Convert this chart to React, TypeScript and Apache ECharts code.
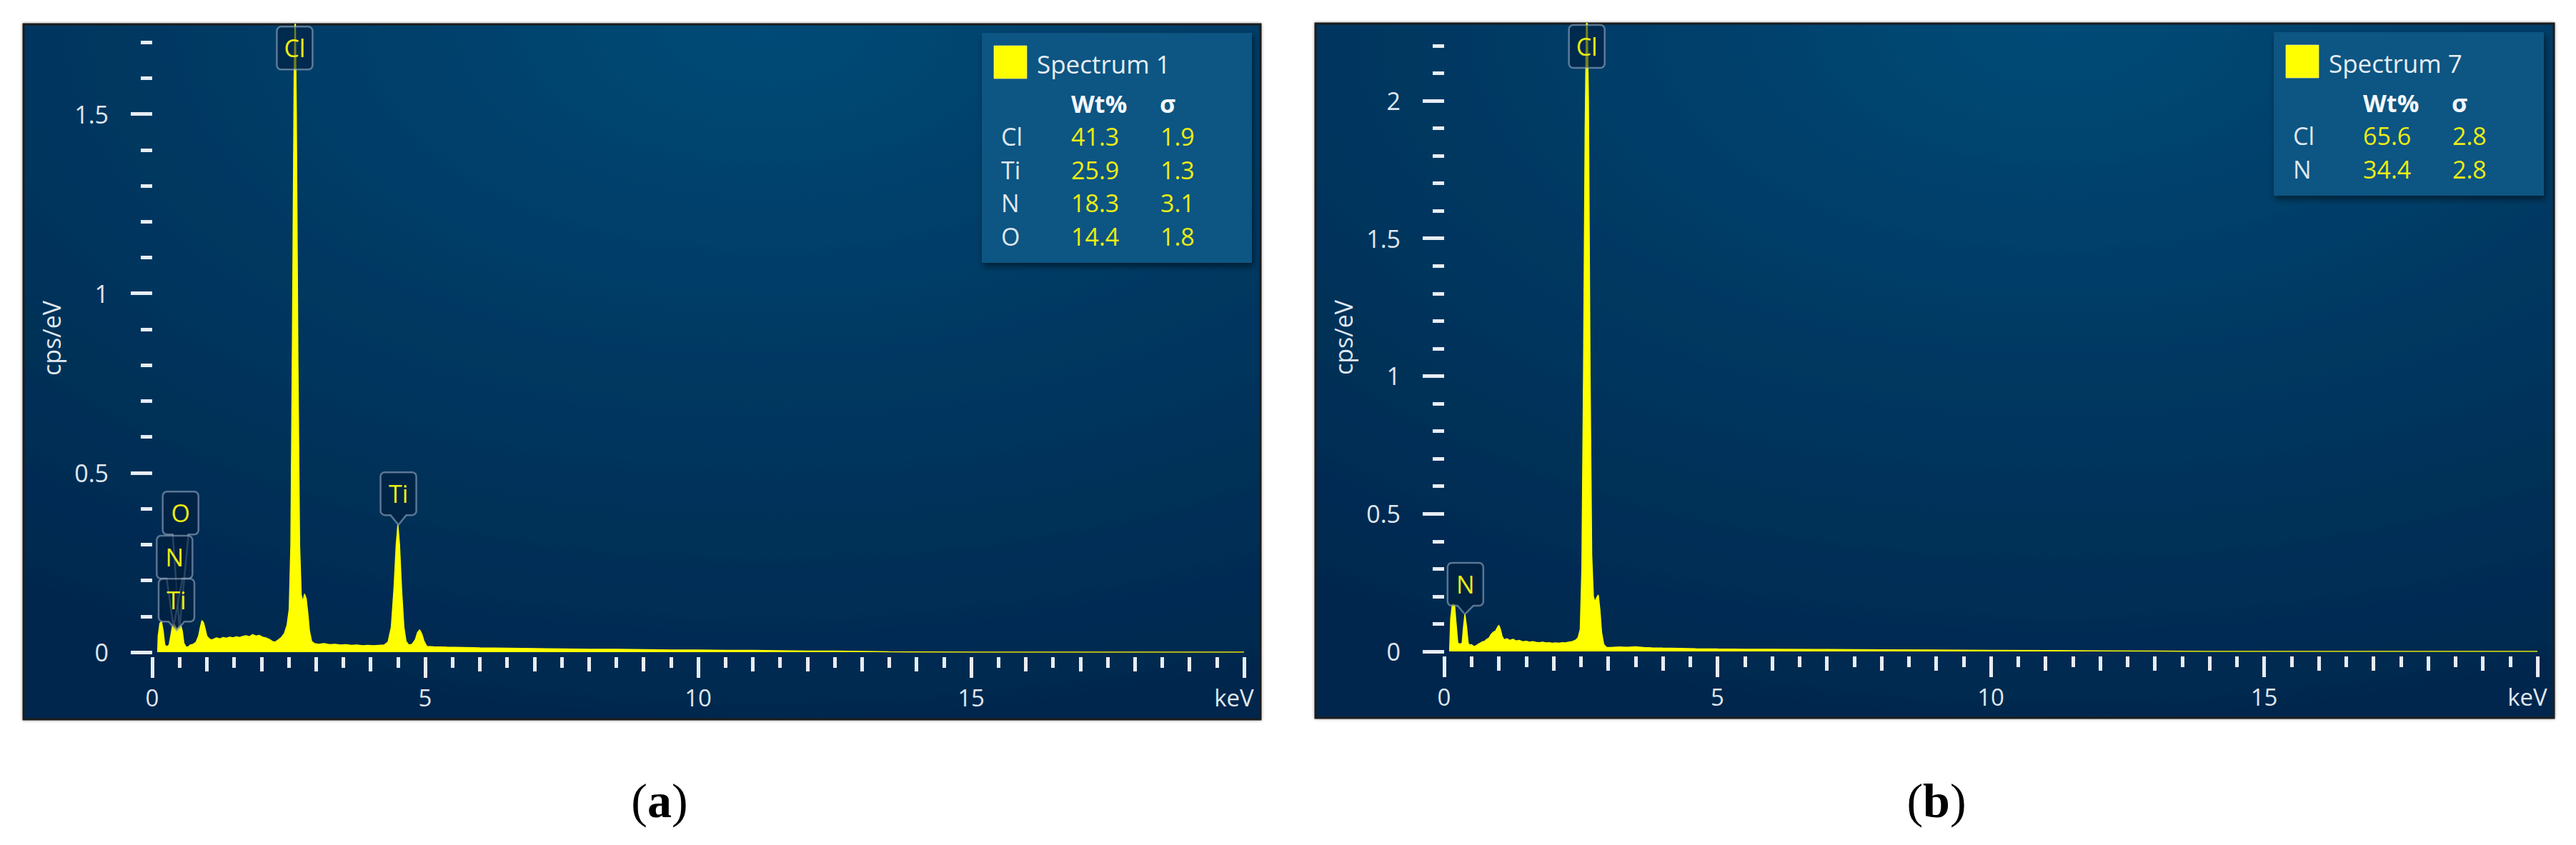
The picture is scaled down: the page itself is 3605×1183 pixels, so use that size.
import React, { useEffect, useRef } from 'react';
import * as echarts from 'echarts';

// ---------------- Spectrum 1 (panel a) : energy (keV) / intensity (cps/eV) ----------------
const energyA: number[] = [
  0.10, 0.11, 0.14, 0.17, 0.20, 0.23, 0.27, 0.31, 0.34, 0.37, 0.40, 0.43, 0.46, 0.49, 0.52, 0.55,
  0.58, 0.62, 0.66, 0.70, 0.75, 0.80, 0.85, 0.88, 0.91, 0.94, 0.97, 1.00, 1.04, 1.08, 1.12, 1.18,
  1.24, 1.30, 1.36, 1.42, 1.48, 1.54, 1.60, 1.66, 1.72, 1.78, 1.84, 1.90, 1.96, 2.02, 2.08, 2.14,
  2.20, 2.25, 2.30, 2.36, 2.42, 2.47, 2.51, 2.54, 2.57, 2.60, 2.62, 2.64, 2.67, 2.70, 2.73, 2.76,
  2.79, 2.82, 2.85, 2.88, 2.92, 2.97, 3.05, 3.15, 3.25, 3.35, 3.45, 3.55, 3.65, 3.75, 3.85, 3.95,
  4.05, 4.15, 4.25, 4.32, 4.38, 4.43, 4.47, 4.50, 4.53, 4.57, 4.61, 4.65, 4.70, 4.76, 4.82, 4.86,
  4.90, 4.94, 4.98, 5.03, 5.15, 5.40, 5.70, 6.00, 6.50, 7.00, 7.50, 8.00, 8.50, 9.00, 9.50, 10.0,
  10.5, 11.0, 11.5, 12.0, 12.5, 13.0, 13.5, 14.0, 15.0, 20.0,
];
const countsA: number[] = [
  0.000, 0.045, 0.080, 0.085, 0.060, 0.020, 0.015, 0.020, 0.045, 0.072, 0.078, 0.070, 0.064, 0.072, 0.075, 0.060,
  0.025, 0.014, 0.015, 0.020, 0.022, 0.027, 0.045, 0.068, 0.088, 0.082, 0.065, 0.045, 0.038, 0.034, 0.036, 0.040,
  0.037, 0.041, 0.039, 0.042, 0.040, 0.043, 0.041, 0.044, 0.046, 0.043, 0.049, 0.045, 0.047, 0.042, 0.040, 0.036,
  0.030, 0.028, 0.033, 0.040, 0.052, 0.075, 0.120, 0.300, 0.900, 1.600, 1.800, 1.500, 0.800, 0.300, 0.160, 0.140,
  0.162, 0.150, 0.110, 0.060, 0.030, 0.024, 0.022, 0.024, 0.021, 0.022, 0.020, 0.021, 0.019, 0.020, 0.018, 0.019,
  0.018, 0.019, 0.020, 0.028, 0.070, 0.180, 0.300, 0.355, 0.300, 0.170, 0.070, 0.030, 0.020, 0.022, 0.035, 0.055,
  0.062, 0.050, 0.030, 0.016, 0.015, 0.014, 0.013, 0.012, 0.011, 0.010, 0.009, 0.008, 0.008, 0.007, 0.006, 0.006,
  0.005, 0.005, 0.004, 0.003, 0.003, 0.002, 0.001, 0.0005, 0.000, 0.000,
];

// ---------------- Spectrum 7 (panel b) ----------------
const energyB: number[] = [
  0.10, 0.12, 0.15, 0.19, 0.22, 0.25, 0.29, 0.33, 0.35, 0.38, 0.41, 0.44, 0.47, 0.50, 0.54, 0.58,
  0.62, 0.66, 0.70, 0.74, 0.78, 0.82, 0.86, 0.90, 0.94, 0.97, 1.00, 1.03, 1.06, 1.10, 1.15, 1.20,
  1.26, 1.32, 1.38, 1.44, 1.50, 1.56, 1.62, 1.68, 1.74, 1.80, 1.86, 1.92, 1.98, 2.04, 2.10, 2.16,
  2.22, 2.28, 2.34, 2.40, 2.45, 2.49, 2.52, 2.55, 2.58, 2.61, 2.64, 2.67, 2.70, 2.73, 2.76, 2.79,
  2.82, 2.85, 2.88, 2.92, 2.97, 3.05, 3.20, 3.35, 3.50, 3.65, 3.80, 4.00, 4.30, 4.60, 5.00, 5.50,
  6.00, 7.00, 8.00, 9.00, 10.0, 11.0, 12.0, 13.0, 14.0, 20.0,
];
const countsB: number[] = [
  0.000, 0.120, 0.170, 0.170, 0.100, 0.030, 0.027, 0.030, 0.080, 0.135, 0.090, 0.030, 0.022, 0.025, 0.018, 0.020,
  0.026, 0.030, 0.035, 0.037, 0.044, 0.048, 0.062, 0.070, 0.074, 0.085, 0.095, 0.080, 0.055, 0.042, 0.046, 0.040,
  0.044, 0.038, 0.040, 0.035, 0.037, 0.034, 0.036, 0.033, 0.032, 0.034, 0.031, 0.032, 0.030, 0.031, 0.030, 0.032,
  0.031, 0.034, 0.036, 0.040, 0.050, 0.080, 0.300, 1.000, 1.900, 2.400, 2.000, 1.000, 0.350, 0.200, 0.180, 0.195,
  0.205, 0.150, 0.070, 0.025, 0.015, 0.014, 0.016, 0.015, 0.017, 0.014, 0.013, 0.012, 0.011, 0.010, 0.009, 0.008,
  0.008, 0.007, 0.006, 0.005, 0.004, 0.003, 0.002, 0.001, 0.000, 0.000,
];

const xTickLabels = ['0', '5', '10', '15', 'keV'];
const yAxisTitle = 'cps/eV';
const captionLetters = ['a', 'b'];

// quantification tables
const spectrumTitleA = 'Spectrum 1';
const elementsA = ['Cl', 'Ti', 'N', 'O'];
const wtA = ['41.3', '25.9', '18.3', '14.4'];
const sigmaA = ['1.9', '1.3', '3.1', '1.8'];

const spectrumTitleB = 'Spectrum 7';
const elementsB = ['Cl', 'N'];
const wtB = ['65.6', '34.4'];
const sigmaB = ['2.8', '2.8'];

// peak markers: label, box-centre energy, box-bottom intensity, pointer energy, pointer intensity
const peakNamesA = ['Cl', 'O', 'N', 'Ti', 'Ti'];
const peakBoxEA = [2.61, 0.52, 0.41, 0.445, 4.51];
const peakBoxVA = [1.624, 0.328, 0.205, 0.085, 0.382];
const peakTipEA = [2.61, 0.5, 0.39, 0.45, 4.51];
const peakTipVA = [1.624, 0.066, 0.07, 0.06, 0.355];

const peakNamesB = ['Cl', 'N'];
const peakBoxEB = [2.61, 0.39];
const peakBoxVB = [2.119, 0.166];
const peakTipEB = [2.61, 0.38];
const peakTipVB = [2.119, 0.135];

// axis ranges
const xMax = 20;
const yMaxA = 1.75, yMinorMaxA = 1.7, yMajorMaxA = 1.5;
const yMaxB = 2.28, yMinorMaxB = 2.2, yMajorMaxB = 2.0;

// ---------------- styling ----------------
const W = 3605, H = 1183;
const FONT = "'Open Sans', 'Noto Sans', 'DejaVu Sans', sans-serif";
const AXIS_TEXT = '#dfe7ef';
const TICK = '#e8edf3';
const YELLOW = '#ffff00';
const VALUE_YELLOW = '#ecec14';

type Frame = { x: number; y: number; w: number; h: number };

function calloutPoints(cx: number, bottom: number, tipX: number, tipY: number, w: number, h: number, r: number) {
  const l = cx - w / 2, rt = cx + w / 2, t = bottom - h, b = bottom;
  const pts: number[][] = [];
  const arc = (ox: number, oy: number, a0: number, a1: number) => {
    for (let k = 0; k <= 4; k++) {
      const a = a0 + ((a1 - a0) * k) / 4;
      pts.push([ox + r * Math.cos(a), oy + r * Math.sin(a)]);
    }
  };
  arc(l + r, t + r, Math.PI, 1.5 * Math.PI);
  arc(rt - r, t + r, 1.5 * Math.PI, 2 * Math.PI);
  arc(rt - r, b - r, 0, 0.5 * Math.PI);
  if (tipY - b > 2) {
    pts.push([cx + 11, b]);
    pts.push([tipX, tipY]);
    pts.push([cx - 11, b]);
  }
  arc(l + r, b - r, 0.5 * Math.PI, Math.PI);
  return pts;
}

type PanelCfg = {
  frame: Frame;
  energy: number[];
  counts: number[];
  yMax: number;
  yMinorMax: number;
  yMajorMax: number;
  peakNames: string[];
  peakBoxE: number[];
  peakBoxV: number[];
  peakTipE: number[];
  peakTipV: number[];
  title: string;
  elements: string[];
  wt: string[];
  sigma: string[];
  caption: string;
  captionX: number;
};

function buildPanel(cfg: PanelCfg, gi: number, xi: number, yi: number) {
  const f = cfg.frame;
  const plotLeft = f.x + 180;
  const plotRight = f.x + f.w - 23;
  const plotTop = f.y;
  const plotBottom = f.y + 879;
  const pw = plotRight - plotLeft;
  const ph = plotBottom - plotTop;
  const pxPerUnit = ph / cfg.yMax;

  const gridBase = { containLabel: false, outerBoundsMode: 'none', show: false };
  const grids = [
    { ...gridBase, left: plotLeft, top: plotTop, width: pw, height: ph },
    { ...gridBase, left: plotLeft, top: plotBottom - cfg.yMinorMax * pxPerUnit, width: pw, height: cfg.yMinorMax * pxPerUnit },
    { ...gridBase, left: plotLeft, top: plotBottom - cfg.yMajorMax * pxPerUnit, width: pw, height: cfg.yMajorMax * pxPerUnit },
  ];

  const xTickAxis = (interval: number, len: number, labels: boolean) => ({
    type: 'value',
    gridIndex: gi,
    min: 0,
    max: xMax,
    interval,
    position: 'bottom',
    offset: 7,
    z: 2,
    axisLine: { show: false, onZero: false },
    axisTick: { show: true, length: len, lineStyle: { color: TICK, width: 5 } },
    axisLabel: labels
      ? {
          show: true,
          margin: 40,
          color: AXIS_TEXT,
          fontSize: 33,
          fontFamily: FONT,
          formatter: (_v: number, i: number) =>
            i === xTickLabels.length - 1 ? `{k|${xTickLabels[i]}}` : xTickLabels[i],
          rich: { k: { color: AXIS_TEXT, fontSize: 33, fontFamily: FONT, padding: [0, 28, 0, 0] } },
        }
      : { show: false },
    splitLine: { show: false },
  });
  const hiddenX = (g: number) => ({ type: 'value', gridIndex: g, min: 0, max: xMax, show: false });

  const xAxes = [
    xTickAxis(5, 29, true),
    xTickAxis(1, 20, false),
    xTickAxis(0.5, 15, false),
    hiddenX(gi + 1),
    hiddenX(gi + 2),
  ];

  const yAxes = [
    {
      type: 'value',
      gridIndex: gi,
      min: 0,
      max: cfg.yMax,
      position: 'left',
      z: 2,
      axisLine: { show: false },
      axisTick: { show: false },
      axisLabel: { show: false },
      splitLine: { show: false },
      name: yAxisTitle,
      nameLocation: 'middle',
      nameRotate: 90,
      nameGap: 124,
      nameTextStyle: { color: AXIS_TEXT, fontSize: 34, fontFamily: FONT },
    },
    {
      type: 'value',
      gridIndex: gi + 1,
      min: 0,
      max: cfg.yMinorMax,
      interval: 0.1,
      position: 'left',
      offset: 22,
      z: 2,
      axisLine: { show: false },
      axisTick: { show: true, length: 16, lineStyle: { color: TICK, width: 5 } },
      axisLabel: { show: false },
      splitLine: { show: false },
    },
    {
      type: 'value',
      gridIndex: gi + 2,
      min: 0,
      max: cfg.yMajorMax,
      interval: 0.5,
      position: 'left',
      offset: 22,
      z: 2,
      axisLine: { show: false },
      axisTick: { show: true, length: 30, lineStyle: { color: TICK, width: 5 } },
      axisLabel: { show: true, margin: 39, color: AXIS_TEXT, fontSize: 34, fontFamily: FONT },
      splitLine: { show: false },
    },
  ];

  const names = cfg.peakNames;
  const series = [
    {
      type: 'line',
      xAxisIndex: xi,
      yAxisIndex: yi,
      data: cfg.energy.map((e, i) => [e, cfg.counts[i]]),
      showSymbol: false,
      symbol: 'none',
      lineStyle: { color: YELLOW, width: 1.5 },
      itemStyle: { color: YELLOW },
      areaStyle: { color: YELLOW, opacity: 1 },
      z: 3,
      silent: true,
      clip: true,
    },
    {
      type: 'custom',
      xAxisIndex: xi,
      yAxisIndex: yi,
      z: 6,
      clip: false,
      silent: true,
      data: names.map((_n, i) => [cfg.peakBoxE[i], cfg.peakBoxV[i], cfg.peakTipE[i], cfg.peakTipV[i]]),
      encode: { x: 0, y: 1 },
      renderItem: (params: any, api: any) => {
        const name = names[params.dataIndex];
        const b = api.coord([api.value(0), api.value(1)]);
        const t = api.coord([api.value(2), api.value(3)]);
        const bw = 50, bh = 60;
        return {
          type: 'group',
          children: [
            {
              type: 'polygon',
              shape: { points: calloutPoints(b[0], b[1], t[0], t[1], bw, bh, 6) },
              style: { fill: 'rgba(0,28,58,0.55)', stroke: 'rgba(150,172,196,0.6)', lineWidth: 2.5 },
            },
            {
              type: 'text',
              x: b[0],
              y: b[1] - bh / 2,
              style: {
                text: name,
                fill: VALUE_YELLOW,
                fontSize: 34,
                fontFamily: FONT,
                align: 'center',
                verticalAlign: 'middle',
              },
            },
          ],
        };
      },
    },
  ];

  // frame + legend table + caption
  const rows = cfg.elements.length;
  const lx = f.x + 1341;
  const ly = f.y + 12;
  const graphics: any[] = [
    {
      type: 'rect',
      z: 0,
      shape: { x: f.x, y: f.y, width: f.w, height: f.h },
      style: {
        fill: new echarts.graphic.RadialGradient(0.6, 0.0, 1.0, [
          { offset: 0, color: '#004b77' },
          { offset: 0.45, color: '#003a64' },
          { offset: 1, color: '#00284e' },
        ]),
        stroke: '#1a1a1a',
        lineWidth: 3,
        shadowColor: 'rgba(0,0,0,0.35)',
        shadowBlur: 4,
      },
    },
    {
      type: 'rect',
      z: 20,
      shape: { x: lx, y: ly, width: 378, height: 136 + 46.5 * rows },
      style: {
        fill: '#0b5582',
        shadowColor: 'rgba(0,0,0,0.5)',
        shadowBlur: 10,
        shadowOffsetX: 2,
        shadowOffsetY: 5,
      },
    },
    {
      type: 'rect',
      z: 21,
      shape: { x: f.x + 1358, y: f.y + 30, width: 46, height: 46 },
      style: { fill: YELLOW, stroke: 'rgba(255,255,170,0.6)', lineWidth: 1 },
    },
    {
      type: 'text',
      z: 21,
      x: f.x + 1418,
      y: f.y + 55,
      style: { text: cfg.title, fill: '#e6edf4', fontSize: 35, fontFamily: FONT, align: 'left', verticalAlign: 'middle' },
    },
    {
      type: 'text',
      z: 21,
      x: f.x + 1466,
      y: f.y + 111,
      style: { text: 'Wt%', fill: '#f2f6fa', fontSize: 34, fontWeight: 'bold', fontFamily: FONT, align: 'left', verticalAlign: 'middle' },
    },
    {
      type: 'text',
      z: 21,
      x: f.x + 1590,
      y: f.y + 111,
      style: { text: 'σ', fill: '#f2f6fa', fontSize: 34, fontWeight: 'bold', fontFamily: FONT, align: 'left', verticalAlign: 'middle' },
    },
    {
      type: 'text',
      z: 5,
      x: cfg.captionX,
      y: 1121,
      style: {
        text: `{p|(}{b|${cfg.caption}}{p|)}`,
        align: 'center',
        verticalAlign: 'middle',
        rich: {
          p: { fontSize: 68, fontFamily: "'Liberation Serif', serif", fill: '#000', color: '#000' },
          b: { fontSize: 68, fontWeight: 'bold', fontFamily: "'Liberation Serif', serif", fill: '#000', color: '#000' },
        },
      },
    },
  ];
  cfg.elements.forEach((el, i) => {
    const cy = f.y + 157 + 46.5 * i;
    graphics.push(
      { type: 'text', z: 21, x: f.x + 1368, y: cy, style: { text: el, fill: '#dfe7ef', fontSize: 34, fontFamily: FONT, align: 'left', verticalAlign: 'middle' } },
      { type: 'text', z: 21, x: f.x + 1466, y: cy, style: { text: cfg.wt[i], fill: VALUE_YELLOW, fontSize: 34, fontFamily: FONT, align: 'left', verticalAlign: 'middle' } },
      { type: 'text', z: 21, x: f.x + 1591, y: cy, style: { text: cfg.sigma[i], fill: VALUE_YELLOW, fontSize: 34, fontFamily: FONT, align: 'left', verticalAlign: 'middle' } },
    );
  });

  return { grids, xAxes, yAxes, series, graphics };
}

export default function App() {
  const ref = useRef<HTMLDivElement>(null);

  useEffect(() => {
    document.body.style.margin = '0';
    document.body.style.overflow = 'hidden';
    if (!ref.current) return;
    const chart = echarts.init(ref.current, null, { renderer: 'svg', width: W, height: H });

    const pa = buildPanel(
      {
        frame: { x: 33, y: 34, w: 1731, h: 973 },
        energy: energyA,
        counts: countsA,
        yMax: yMaxA,
        yMinorMax: yMinorMaxA,
        yMajorMax: yMajorMaxA,
        peakNames: peakNamesA,
        peakBoxE: peakBoxEA,
        peakBoxV: peakBoxVA,
        peakTipE: peakTipEA,
        peakTipV: peakTipVA,
        title: spectrumTitleA,
        elements: elementsA,
        wt: wtA,
        sigma: sigmaA,
        caption: captionLetters[0],
        captionX: 923,
      },
      0, 0, 0,
    );
    const pb = buildPanel(
      {
        frame: { x: 1841, y: 33, w: 1733, h: 972 },
        energy: energyB,
        counts: countsB,
        yMax: yMaxB,
        yMinorMax: yMinorMaxB,
        yMajorMax: yMajorMaxB,
        peakNames: peakNamesB,
        peakBoxE: peakBoxEB,
        peakBoxV: peakBoxVB,
        peakTipE: peakTipEB,
        peakTipV: peakTipVB,
        title: spectrumTitleB,
        elements: elementsB,
        wt: wtB,
        sigma: sigmaB,
        caption: captionLetters[1],
        captionX: 2710,
      },
      3, 5, 3,
    );

    chart.setOption({
      animation: false,
      backgroundColor: '#ffffff',
      textStyle: { fontFamily: FONT },
      grid: [...pa.grids, ...pb.grids],
      xAxis: [...pa.xAxes, ...pb.xAxes],
      yAxis: [...pa.yAxes, ...pb.yAxes],
      series: [...pa.series, ...pb.series],
      graphic: { elements: [...pa.graphics, ...pb.graphics] },
    } as any);

    return () => chart.dispose();
  }, []);

  return <div ref={ref} style={{ width: W, height: H }} />;
}
